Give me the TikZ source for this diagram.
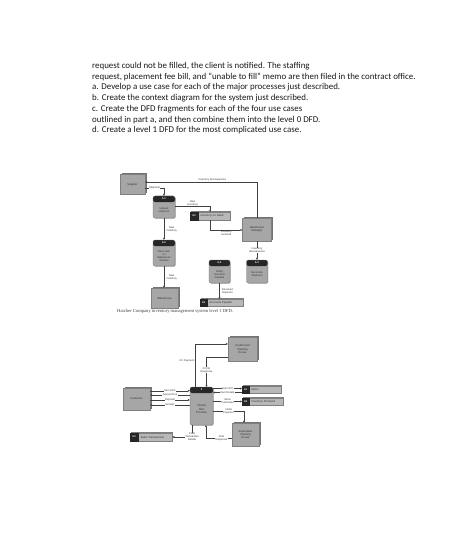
\documentclass[tikz,border=0pt]{standalone}
\usepackage{fontspec}
\setmainfont{Carlito}
\newfontfamily\dsans{Liberation Sans}
\newfontfamily\dserif{Liberation Serif}
\usetikzlibrary{arrows.meta,shadows,calc}
\begin{document}
\begin{tikzpicture}[x=1pt,y=-1pt,
  txt/.style={anchor=base west,inner sep=0pt,font=\fontsize{8.9}{10}\selectfont,text=black!90},
  lbl/.style={font=\dsans\fontsize{2.6}{3}\selectfont,inner sep=0.3pt,align=center,text=black!80},
  ilbl/.style={lbl,fill=white},
  ext/.style={draw=black!50,line width=0.3pt,fill=black!35,font=\dsans\fontsize{2.8}{3.3}\selectfont,align=center,text=black!80,inner sep=0pt,
     drop shadow={shadow xshift=1.5pt,shadow yshift=1.5pt,fill=black!55,opacity=1}},
  proc/.style={draw=black!55,line width=0.3pt,fill=black!35,rounded corners=2pt,inner sep=0pt,
     drop shadow={shadow xshift=0.8pt,shadow yshift=-0.8pt,fill=black!25,opacity=1},
     path picture={\fill[black!85] (path picture bounding box.north west) rectangle ([yshift=-6pt]path picture bounding box.north east);}},
  hdr/.style={font=\dsans\bfseries\fontsize{2.6}{3}\selectfont,text=white,inner sep=0pt},
  store/.style={draw=black!50,line width=0.3pt,fill=black!28,inner sep=0pt,anchor=west,
     drop shadow={shadow xshift=1.2pt,shadow yshift=1.2pt,fill=black!50,opacity=1}},
  sid/.style={fill=black!85,draw=black!85,text=white,font=\dsans\bfseries\fontsize{2.4}{3}\selectfont,inner sep=0pt,anchor=west},
  stxt/.style={font=\dsans\fontsize{2.8}{3}\selectfont,text=black!80,inner sep=0pt,anchor=west},
  flow/.style={draw=black!75,line width=0.35pt,-{Triangle[length=2pt,width=1.8pt]}},
]
\useasboundingbox[fill=white] (0,0) rectangle (474,537);

% ---- text block ----
\node[txt] (t1) at (92,68.6) {request could not be filled, the client is notified. The staffing};
\node[txt] (t2) at (92,79.3) {request, placement fee bill, and “unable to fill” memo are then filed in the contract office.};
\node[txt] (t3) at (92,90.0) {a. Develop a use case for each of the major processes just described.};
\node[txt] (t4) at (92,100.7) {b. Create the context diagram for the system just described.};
\node[txt] (t5) at (92,111.4) {c. Create the DFD fragments for each of the four use cases};
\node[txt] (t6) at (92,122.1) {outlined in part a, and then combine them into the level 0 DFD.};
\node[txt] (t7) at (92,132.8) {d. Create a level 1 DFD for the most complicated use case.};

% ---- diagram 1 ----
\node[ext,minimum width=25pt,minimum height=20pt] (sup) at (132.5,184.5) {Supplier};
\node[ext,minimum width=29pt,minimum height=23pt] (wm) at (257,229.5) {Warehouse\\Manager};
\node[ext,minimum width=27pt,minimum height=20pt] (wh) at (164.5,298) {Warehouse};

\node[proc,minimum width=22pt,minimum height=22pt] (p61) at (164,207) {};
\node[hdr] (p61h) at ([yshift=-3pt]p61.north) {6.1};
\node[lbl] (p61t) at ([yshift=-3pt]p61.center) {Unpack\\shipment};

\node[proc,minimum width=22pt,minimum height=26pt] (p62) at (164,253) {};
\node[hdr] (p62h) at ([yshift=-3pt]p62.north) {6.2};
\node[lbl] (p62t) at ([yshift=-3pt]p62.center) {Place Item\\on\\Warehouse\\Shelves};

\node[proc,minimum width=21pt,minimum height=23pt] (p64) at (219.5,271.5) {};
\node[hdr] (p64h) at ([yshift=-3pt]p64.north) {6.4};
\node[lbl] (p64t) at ([yshift=-3pt]p64.center) {Notify\\Accounts\\Payable};

\node[proc,minimum width=21pt,minimum height=23pt] (p63) at (257,271.5) {};
\node[hdr] (p63h) at ([yshift=-3pt]p63.north) {6.3};
\node[lbl] (p63t) at ([yshift=-3pt]p63.center) {Reconcile\\Shipment};

\node[store,minimum width=40pt,minimum height=8pt] (ioh) at (190,216) {};
\node[sid,minimum size=8pt] (iohid) at (ioh.west) {D2};
\node[stxt] (ioht) at ([xshift=2pt]iohid.east) {Inventory on Hand};

\node[store,minimum width=43pt,minimum height=7pt] (ap) at (200,302.5) {};
\node[sid,minimum size=7pt] (apid) at (ap.west) {D4};
\node[stxt] (apt) at ([xshift=2pt]apid.east) {Accounts Payable};

\draw[flow] ([yshift=-3.5pt]sup.east) -| (p61.north) node[pos=0.25,ilbl] {Shipment};
\draw[flow] (wm.north) |- ([yshift=2.5pt]sup.east) node[pos=0.70,lbl,above=0.2pt] {Inventory Discrepancies};
\draw[flow] ([yshift=0.5pt]p61.east) -| (ioh.north) node[pos=0.25,lbl,above=0.3pt] {New\\inventory};
\draw[flow] (ioh.south) |- ([yshift=-0.5pt]wm.west) node[pos=0.75,lbl,below=0.4pt] {Inventory\\received};
\draw[flow] (wm.south) -- (p63.north) node[midway,ilbl] {Inventory\\discrepancies};
\draw[flow] (p61.south) -- (p62.north) node[midway,lbl,right=2pt] {New\\inventory};
\draw[flow] (p62.south) -- (wh.north -| p62.south) node[midway,lbl,right=2pt] {New\\inventory};
\draw[flow] (p64.south) -- (p64.south |- ap.north) node[midway,lbl,right=2pt] {Received\\shipment};

\node[font=\dserif\fontsize{4.6}{5}\selectfont,text=black!75,anchor=west,inner sep=0pt] (cap) at (117,311) {Hatcher Company inventory management system level 1 DFD.};

% ---- diagram 2 ----
\node[ext,minimum width=29pt,minimum height=24pt] (cch) at (242.5,349) {Credit Card\\Clearing\\House};
\node[ext,minimum width=27pt,minimum height=22pt] (cust) at (136.5,399) {Customer};
\node[ext,minimum width=27pt,minimum height=23pt] (ach) at (245.5,434.5) {Automated\\Clearing\\House};

\node[proc,minimum width=23pt,minimum height=38pt] (p3) at (201.5,406) {};
\node[hdr] (p3h) at ([yshift=-3pt]p3.north) {3};
\node[lbl,font=\dsans\fontsize{3}{3.6}\selectfont] (p3t) at ([yshift=-3pt]p3.center) {Check\\Out\\Process};

\node[store,minimum width=39pt,minimum height=7pt] (items) at (242,390) {};
\node[sid,minimum size=7pt] (itemsid) at (items.west) {D1};
\node[stxt] (itemst) at ([xshift=2pt]itemsid.east) {Items};

\node[store,minimum width=41pt,minimum height=7pt] (inv) at (242,401.5) {};
\node[sid,minimum size=7pt] (invid) at (inv.west) {D2};
\node[stxt] (invt) at ([xshift=2pt]invid.east) {Inventory On Hand};

\node[store,minimum width=42pt,minimum height=8pt] (sales) at (130,437) {};
\node[sid,minimum size=8pt] (salesid) at (sales.west) {D3};
\node[stxt] (salest) at ([xshift=2pt]salesid.east) {Sales Transactions};

\draw[flow] ([yshift=8.3pt]cust.east) -- ([yshift=8.3pt]cust.east -| p3.west) node[midway,ilbl] {Item UPC};
\draw[flow] ([yshift=4pt]cust.east -| p3.west) -- ([yshift=4pt]cust.east) node[midway,ilbl] {Amount Due};
\draw[flow] ([yshift=-1pt]cust.east) -- ([yshift=-1pt]cust.east -| p3.west) node[midway,ilbl] {Payment};
\draw[flow] ([yshift=-6pt]cust.east -| p3.west) -- ([yshift=-6pt]cust.east) node[midway,ilbl] {Receipt};

\draw[flow] ([yshift=17.5pt]p3.east) -- ([yshift=17.5pt]p3.east -| items.west) node[midway,ilbl] {Item UPC};
\draw[flow] ([yshift=13.5pt]p3.east -| items.west) -- ([yshift=13.5pt]p3.east) node[midway,ilbl] {Item Details};
\draw[flow] ([yshift=4.5pt]p3.east) -- ([yshift=4.5pt]p3.east -| inv.west) node[midway,ilbl] {Items\\Purchased};
\draw[flow] ([yshift=-5.5pt]p3.east) -| ([xshift=-1.5pt]ach.north) node[pos=0.25,ilbl] {Initial\\Payment};
\draw[flow] ([yshift=-3.5pt]ach.west) -| ([xshift=4.5pt]p3.south) node[pos=0.2,ilbl] {ACH\\Response};
\draw[flow] ([xshift=-9.5pt]p3.south) |- (sales.east) node[pos=0.5,ilbl] {Final\\Transaction\\Details};
\draw[flow] ([xshift=-6pt]p3.north) |- ([yshift=5pt]cch.west) node[pos=0.3,lbl,left=0.8pt] {CC Payment};
\draw[flow] ([yshift=-8pt]cch.west) -| ([xshift=5pt]p3.north) node[pos=0.72,ilbl] {CCCH\\Response};
\end{tikzpicture}
\end{document}
